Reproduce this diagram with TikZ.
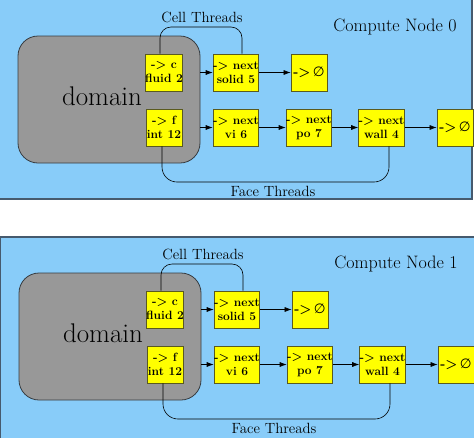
\documentclass[tikz,border=0pt]{standalone}
\usepackage{fontspec}
\newfontfamily\symfont{DejaVu Sans}
\usetikzlibrary{arrows.meta,calc}
\definecolor{panelfill}{RGB}{136,204,249}
\definecolor{paneldraw}{RGB}{70,90,110}
\definecolor{boxfill}{RGB}{255,255,0}
\definecolor{boxdraw}{RGB}{90,90,30}
\definecolor{domfill}{RGB}{152,152,152}
\definecolor{domdraw}{RGB}{55,60,65}
\tikzset{
  panel/.style={fill=panelfill,draw=paneldraw,line width=1.2pt},
  domainbox/.style={fill=domfill,draw=domdraw,line width=0.8pt,rounded corners=20pt,minimum width=182pt,minimum height=127pt,inner sep=0pt},
  listbox/.style={fill=boxfill,draw=boxdraw,line width=0.8pt,minimum width=36pt,minimum height=37pt,inner sep=0pt,align=center,font=\fontsize{12}{14}\selectfont\bfseries},
  nullbox/.style={listbox,font=\fontsize{13.5}{16}\selectfont\bfseries},
  link/.style={-{Latex[length=7pt,width=5pt]},line width=0.6pt},
  thread/.style={line width=0.6pt},
  biglabel/.style={font=\fontsize{27}{30}\selectfont,inner sep=0pt},
  midlabel/.style={font=\fontsize{14.8}{17}\selectfont,inner sep=0pt},
  titlelabel/.style={font=\fontsize{18}{21}\selectfont,inner sep=0pt}
}
\newcommand{\nullsym}{->\hspace{2.5pt}{\symfont\mdseries\fontsize{13.5}{16}\selectfont ∅}}
\begin{document}
\begin{tikzpicture}[x=1pt,y=-1pt]
\useasboundingbox (0,0) rectangle (474,437);
\fill[white] (0,0) rectangle (474,437);
% panels
\draw[panel] (-1,-2) rectangle (472,199);
\draw[panel] (0.5,237) rectangle (480,440);
\foreach \i/\dx/\dy in {0/0/0,1/1/237}{
\begin{scope}[shift={(\dx,\dy)}]
  \node[domainbox] (dom\i) at (109,99.5) {};
  \node[biglabel] (domlab\i) at (102,96) {domain};
  \node[listbox] (c\i) at (164,72.5) {-> c\\fluid 2};
  \node[listbox] (f\i) at (164,127.5) {-> f\\int 12};
  \node[listbox] (s\i) at (236,72.5) {-> next\\solid 5};
  \node[nullbox] (na\i) at (309,72.5) {\nullsym};
  \node[listbox] (v\i) at (236,127.5) {-> next\\vi 6};
  \node[listbox] (p\i) at (309,127.5) {-> next\\po 7};
  \node[listbox] (w\i) at (381.5,127.5) {-> next\\wall 4};
  \node[nullbox] (nb\i) at (455,127.5) {\nullsym};
  \draw[link] (dom\i.east |- s\i.west) -- (s\i.west);
  \draw[link] (s\i) -- (na\i);
  \draw[link] (dom\i.east |- v\i.west) -- (v\i.west);
  \draw[link] (v\i) -- (p\i);
  \draw[link] (p\i) -- (w\i);
  \draw[link] (w\i) -- (nb\i);
  \coordinate (ct\i) at (200,27);
  \coordinate (fb\i) at (270,182);
  \draw[thread,rounded corners=11pt] ([xshift=-4pt]c\i.north) |- (ct\i) -| ([xshift=6pt]s\i.north);
  \draw[thread,rounded corners=15pt] ([xshift=-2pt]f\i.south) |- (fb\i) -| ([xshift=7.5pt]w\i.south);
  \node[midlabel] (cl\i) at (202,17) {Cell Threads};
  \node[midlabel] (fl\i) at (273,191.5) {Face Threads};
  \node[titlelabel] (tl\i) at (395,27) {Compute Node \i};
\end{scope}
}
\end{tikzpicture}
\end{document}
